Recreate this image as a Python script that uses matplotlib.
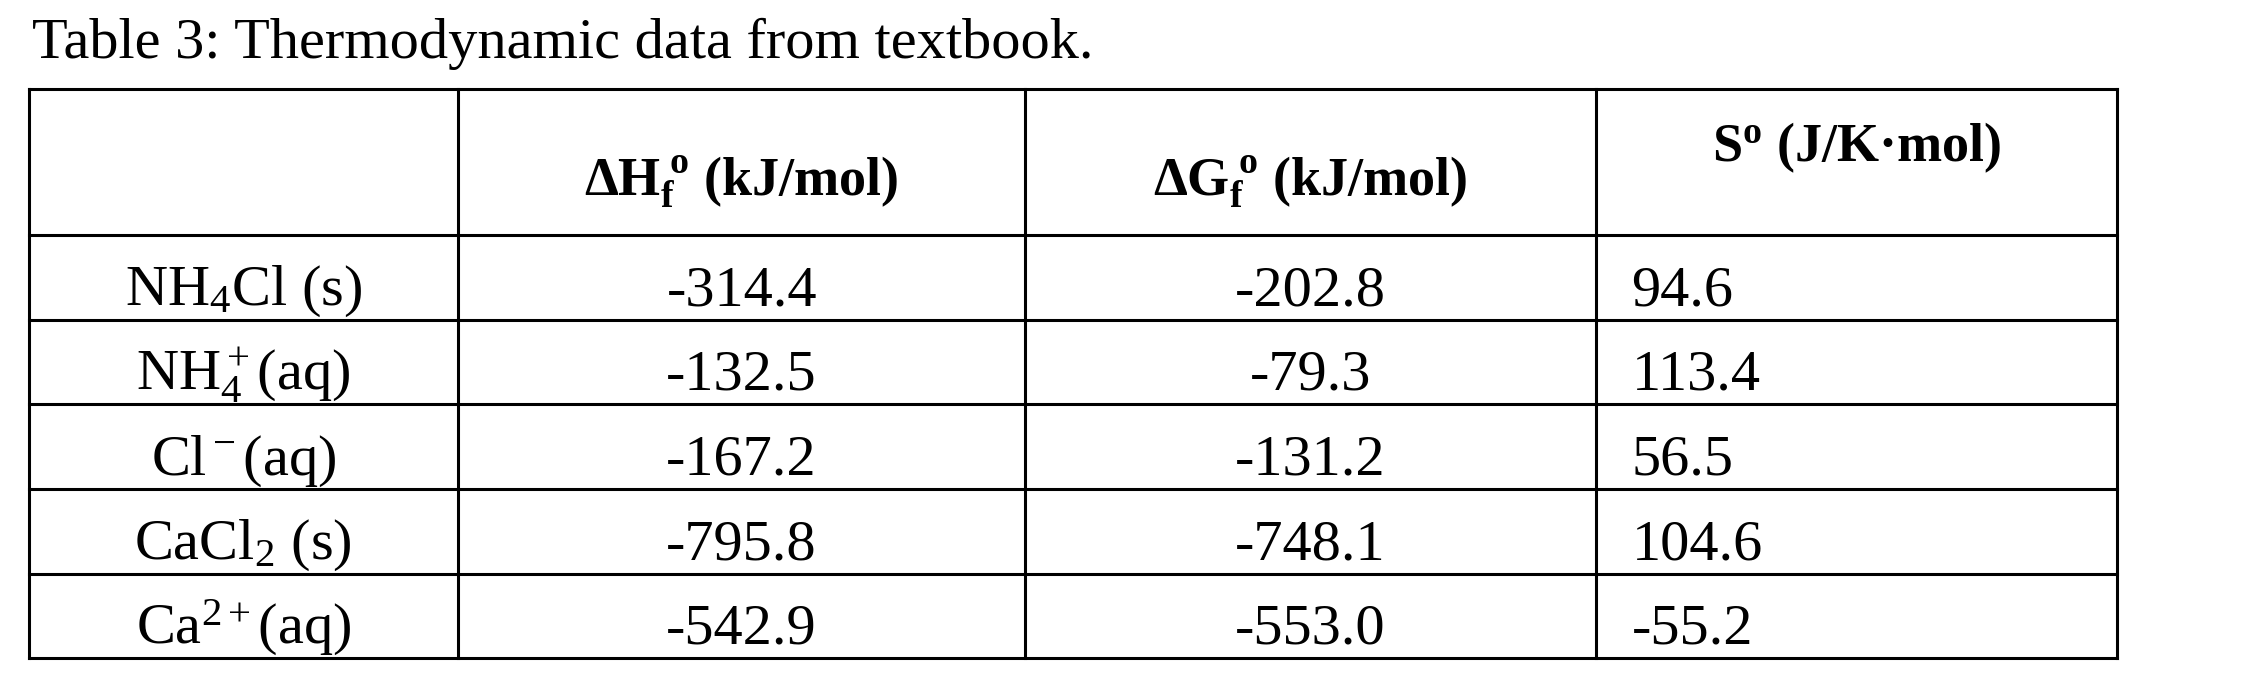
import matplotlib
matplotlib.use("Agg")
import matplotlib.pyplot as plt

plt.rcParams['font.family'] = ['Liberation Serif', 'DejaVu Serif']
plt.rcParams['mathtext.fontset'] = 'custom'
plt.rcParams['mathtext.rm'] = 'Liberation Serif'
plt.rcParams['mathtext.it'] = 'Liberation Serif:italic'
plt.rcParams['mathtext.bf'] = 'Liberation Serif:bold'

title = "Table 3: Thermodynamic data from textbook."
headers = [r"$\mathbf{\Delta H_f^{\ o}}$ (kJ/mol)", r"$\mathbf{\Delta G_f^{\ o}}$ (kJ/mol)",
           r"$\mathbf{S^o}$ (J/K·mol)"]
species = [r"NH$_4$Cl (s)", r"NH$_4^+$(aq)", r"Cl$^-$(aq)", r"CaCl$_2$ (s)", r"Ca$^{2+}$(aq)"]
dH = ["-314.4", "-132.5", "-167.2", "-795.8", "-542.9"]
dG = ["-202.8", "-79.3", "-131.2", "-748.1", "-553.0"]
S = ["94.6", "113.4", "56.5", "104.6", "-55.2"]

fig = plt.figure(figsize=(22.58, 6.8), dpi=100)
ax = fig.add_axes([0, 0, 1, 1])
ax.set_xlim(0, 1568); ax.set_ylim(472, 0); ax.axis('off')

fs = 42
ax.text(22, 40, title, fontsize=fs, va='baseline', ha='left')

xs = [20, 318, 712, 1108, 1470]
lw = 2.2
top, bot = 62, 457
for x in xs:
    ax.plot([x, x], [top, bot], color='black', lw=lw)
for y in [top, 163, bot]:
    ax.plot([xs[0], xs[-1]], [y, y], color='black', lw=lw)
row_h = (457 - 163) / 5.0
for i in range(1, 5):
    y = 163 + i * row_h
    ax.plot([xs[0], xs[-1]], [y, y], color='black', lw=lw)

hfs = 39
ax.text((xs[1] + xs[2]) / 2, 136, headers[0], fontsize=hfs, ha='center', va='baseline', fontweight='bold')
ax.text((xs[2] + xs[3]) / 2, 136, headers[1], fontsize=hfs, ha='center', va='baseline', fontweight='bold')
ax.text((xs[3] + xs[4]) / 2, 112, headers[2], fontsize=hfs, ha='center', va='baseline', fontweight='bold')

for i in range(5):
    yb = 163 + (i + 1) * row_h - 10
    ax.text((xs[0] + xs[1]) / 2, yb, species[i], fontsize=fs, ha='center', va='baseline')
    ax.text((xs[1] + xs[2]) / 2, yb, dH[i], fontsize=fs, ha='center', va='baseline')
    ax.text((xs[2] + xs[3]) / 2, yb, dG[i], fontsize=fs, ha='center', va='baseline')
    ax.text(1133, yb, S[i], fontsize=fs, ha='left', va='baseline')

fig.savefig("out.png", dpi=100)
